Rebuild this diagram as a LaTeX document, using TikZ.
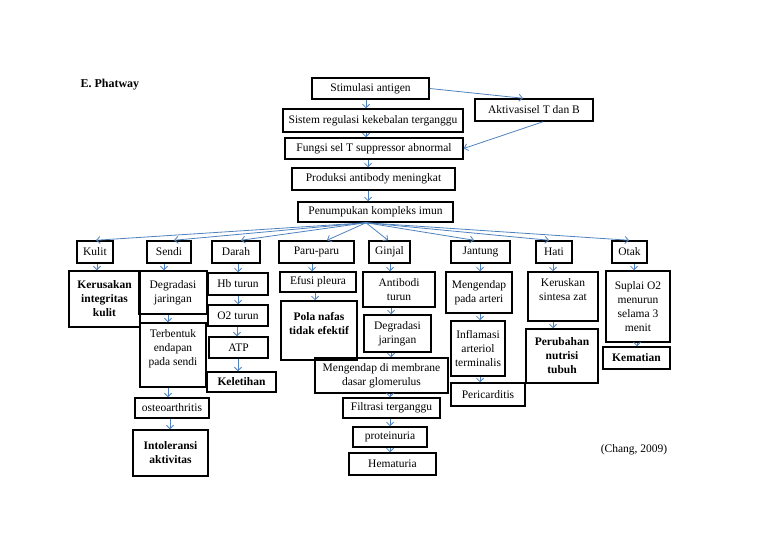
\documentclass[tikz,border=0pt]{standalone}
\usepackage{fontspec}
\setmainfont{Liberation Serif}
\usepackage{tikz}
\usetikzlibrary{arrows.meta}

\begin{document}
\begin{tikzpicture}[x=1pt,y=-1pt,
    box/.style={draw,line width=1.5pt,rectangle,inner sep=0pt,align=center,
      font=\fontsize{11.5}{14}\selectfont},
    bbox/.style={box,font=\fontsize{11.5}{14}\selectfont\bfseries},
    arr/.style={draw={rgb,255:red,79;green,129;blue,189},line width=0.8pt,
      -{Straight Barb[length=3.5pt,width=7pt]}}]
    \useasboundingbox (0,0) rectangle (768,543);
    \node[font=\fontsize{12}{14}\selectfont\bfseries,anchor=west] (title) at (77,85) {E. Phatway};
    % main chain
    \node[box,minimum width=117,minimum height=21] (stim) at (370.5,88.5) {Stimulasi antigen};
    \node[box,minimum width=118,minimum height=22] (aktiv) at (534,110) {Aktivasisel T dan B};
    \node[box,minimum width=180,minimum height=23] (sistem) at (373,120.5) {Sistem regulasi kekebalan terganggu};
    \node[box,minimum width=178,minimum height=21] (fungsi) at (374,148.5) {Fungsi sel T suppressor abnormal};
    \node[box,minimum width=163,minimum height=22] (produksi) at (373.5,179) {Produksi antibody meningkat};
    \node[box,minimum width=155,minimum height=20] (pen) at (375.5,212) {Penumpukan kompleks imun};
    % organs
    \node[box,minimum width=36,minimum height=22] (kulit) at (95,252) {Kulit};
    \node[box,minimum width=44,minimum height=22] (sendi) at (169,252) {Sendi};
    \node[box,minimum width=48,minimum height=22] (darah) at (236,252) {Darah};
    \node[box,minimum width=75,minimum height=22] (paru) at (316.5,252) {Paru-paru};
    \node[box,minimum width=41,minimum height=22] (ginjal) at (389.5,252) {Ginjal};
    \node[box,minimum width=59,minimum height=22] (jantung) at (480.5,252) {Jantung};
    \node[box,minimum width=36,minimum height=22] (hati) at (554,252) {Hati};
    \node[box,minimum width=35,minimum height=22] (otak) at (629.5,252) {Otak};
    % kulit
    \node[bbox,minimum width=71,minimum height=56] (rusak) at (104.5,299) {Kerusakan\\integritas\\kulit};
    % sendi
    \node[box,minimum width=68,minimum height=43] (degS) at (173,292.5) {Degradasi\\jaringan};
    \node[box,minimum width=66,minimum height=64] (endap) at (173,355) {Terbentuk\\endapan\\pada sendi\\ };
    \node[box,minimum width=74,minimum height=20] (osteo) at (172,408) {osteoarthritis};
    \node[bbox,minimum width=75,minimum height=46] (intol) at (170.5,453) {Intoleransi\\aktivitas};
    % darah
    \node[box,minimum width=60,minimum height=22] (hb) at (238,284) {Hb turun};
    \node[box,minimum width=60,minimum height=21] (otwo) at (238,315.5) {O2 turun};
    \node[box,minimum width=59,minimum height=21] (atp) at (238.5,347.5) {ATP};
    \node[bbox,minimum width=69,minimum height=20] (letih) at (241.5,382) {Keletihan};
    % paru-paru
    \node[box,minimum width=76,minimum height=20] (efusi) at (318,282) {Efusi pleura};
    \node[bbox,minimum width=76,minimum height=59] (pola) at (319,330.5) {Pola nafas\\tidak efektif\\ };
    % ginjal
    \node[box,minimum width=72,minimum height=35] (antib) at (399,289.5) {Antibodi\\turun};
    \node[box,minimum width=67,minimum height=37] (degG) at (397.5,333.5) {Degradasi\\jaringan};
    \node[box,minimum width=133,minimum height=35] (membran) at (381.5,375.5) {Mengendap di membrane\\dasar glomerulus};
    \node[box,minimum width=97,minimum height=20] (filtr) at (391.5,408) {Filtrasi terganggu};
    \node[box,minimum width=74,minimum height=20] (prot) at (390,437) {proteinuria};
    \node[box,minimum width=87,minimum height=22] (hema) at (392.5,464) {Hematuria};
    % jantung
    \node[box,minimum width=66,minimum height=41] (arteri) at (479,292.5) {Mengendap\\pada arteri};
    \node[box,minimum width=54,minimum height=55] (inflam) at (478,348.5) {Inflamasi\\arteriol\\terminalis};
    \node[box,minimum width=74,minimum height=23] (peri) at (488,394.5) {Pericarditis};
    % hati
    \node[box,minimum width=70,minimum height=49] (rusakzat) at (563,296.5) {Keruskan\\sintesa zat\\ };
    \node[bbox,minimum width=72,minimum height=54] (nutrisi) at (562,356) {Perubahan\\nutrisi\\tubuh};
    % otak
    \node[box,minimum width=64,minimum height=71] (suplai) at (638,306.5) {Suplai O2\\menurun\\selama 3\\menit};
    \node[bbox,minimum width=67,minimum height=22] (mati) at (636.5,358) {Kematian};
    \node[font=\fontsize{11.5}{14}\selectfont] (ref) at (634,450) {(Chang, 2009)};
    % arrows
    \draw[arr] (stim.east) -- (aktiv.north -| 523,0);
    \draw[arr] (aktiv.south -| 543,0) -- (fungsi.east);
    \foreach \o/\x in {kulit/96,sendi/174,darah/241,paru/327,ginjal/388,jantung/474,hati/549,otak/629}
      \draw[arr] (pen.south -| 366,0) -- (\o.north -| \x,0);
    \foreach \a/\b/\x in {stim/sistem/366,sistem/fungsi/366,fungsi/produksi/368,produksi/pen/368,
        kulit/rusak/97,sendi/degS/164,degS/endap/168,endap/osteo/168,osteo/intol/170,
        darah/hb/238,hb/otwo/238,otwo/atp/237,atp/letih/238,paru/efusi/312,efusi/pola/315,
        ginjal/antib/390,antib/degG/391,degG/membran/391,membran/filtr/390,filtr/prot/390,prot/hema/390,
        jantung/arteri/480,arteri/inflam/480,inflam/peri/480,hati/rusakzat/553,rusakzat/nutrisi/553,
        otak/suplai/634,suplai/mati/637}
      \draw[arr] (\a.south -| \x,0) -- (\b.north -| \x,0);
  \end{tikzpicture}
\end{document}
